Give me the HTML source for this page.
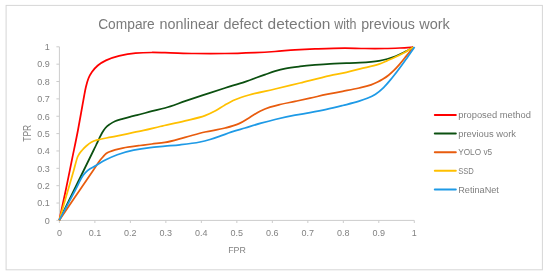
<!DOCTYPE html>
<html><head><meta charset="utf-8"><title>chart</title>
<style>html,body{margin:0;padding:0;background:#fff}svg{display:block}</style></head>
<body>
<svg width="550" height="276" viewBox="0 0 550 276">
<rect x="0" y="0" width="550" height="276" fill="#fff"/>
<rect x="6.1" y="5.4" width="536.3" height="264.4" fill="#fff" stroke="#d6d6d6" stroke-width="1"/>
<g stroke="#cccccc" stroke-width="1" fill="none">
<path d="M59.4,46.8V220.4H414.3"/>
<path d="M56.40,220.40H59.4"/>
<path d="M59.40,220.4V223.00"/>
<path d="M56.40,203.04H59.4"/>
<path d="M94.89,220.4V223.00"/>
<path d="M56.40,185.68H59.4"/>
<path d="M130.38,220.4V223.00"/>
<path d="M56.40,168.32H59.4"/>
<path d="M165.87,220.4V223.00"/>
<path d="M56.40,150.96H59.4"/>
<path d="M201.36,220.4V223.00"/>
<path d="M56.40,133.60H59.4"/>
<path d="M236.85,220.4V223.00"/>
<path d="M56.40,116.24H59.4"/>
<path d="M272.34,220.4V223.00"/>
<path d="M56.40,98.88H59.4"/>
<path d="M307.83,220.4V223.00"/>
<path d="M56.40,81.52H59.4"/>
<path d="M343.32,220.4V223.00"/>
<path d="M56.40,64.16H59.4"/>
<path d="M378.81,220.4V223.00"/>
<path d="M56.40,46.80H59.4"/>
<path d="M414.30,220.4V223.00"/>
</g>
<g font-family="'Liberation Sans', sans-serif" font-size="9" fill="#828282">
<text x="49.8" y="223.70" text-anchor="end">0</text>
<text x="59.40" y="236.3" text-anchor="middle">0</text>
<text x="49.8" y="206.34" text-anchor="end">0.1</text>
<text x="94.89" y="236.3" text-anchor="middle">0.1</text>
<text x="49.8" y="188.98" text-anchor="end">0.2</text>
<text x="130.38" y="236.3" text-anchor="middle">0.2</text>
<text x="49.8" y="171.62" text-anchor="end">0.3</text>
<text x="165.87" y="236.3" text-anchor="middle">0.3</text>
<text x="49.8" y="154.26" text-anchor="end">0.4</text>
<text x="201.36" y="236.3" text-anchor="middle">0.4</text>
<text x="49.8" y="136.90" text-anchor="end">0.5</text>
<text x="236.85" y="236.3" text-anchor="middle">0.5</text>
<text x="49.8" y="119.54" text-anchor="end">0.6</text>
<text x="272.34" y="236.3" text-anchor="middle">0.6</text>
<text x="49.8" y="102.18" text-anchor="end">0.7</text>
<text x="307.83" y="236.3" text-anchor="middle">0.7</text>
<text x="49.8" y="84.82" text-anchor="end">0.8</text>
<text x="343.32" y="236.3" text-anchor="middle">0.8</text>
<text x="49.8" y="67.46" text-anchor="end">0.9</text>
<text x="378.81" y="236.3" text-anchor="middle">0.9</text>
<text x="49.8" y="50.10" text-anchor="end">1</text>
<text x="414.30" y="236.3" text-anchor="middle">1</text>
<text x="228.2" y="253.3" font-size="9.7" textLength="17.6" lengthAdjust="spacingAndGlyphs">FPR</text>
<text transform="translate(31.4,141.7) rotate(-90)" font-size="10.7" textLength="16.8" lengthAdjust="spacingAndGlyphs">TPR</text>
</g>
<text y="28.8" font-family="'Liberation Sans', sans-serif" font-size="14" fill="#7a7a7a"><tspan x="98.20" textLength="56.60" lengthAdjust="spacingAndGlyphs">Compare</tspan> <tspan x="159.60" textLength="59.20" lengthAdjust="spacingAndGlyphs">nonlinear</tspan> <tspan x="223.60" textLength="39.20" lengthAdjust="spacingAndGlyphs">defect</tspan> <tspan x="267.60" textLength="62.80" lengthAdjust="spacingAndGlyphs">detection</tspan> <tspan x="334.20" textLength="22.20" lengthAdjust="spacingAndGlyphs">with</tspan> <tspan x="361.20" textLength="53.80" lengthAdjust="spacingAndGlyphs">previous</tspan> <tspan x="419.20" textLength="30.60" lengthAdjust="spacingAndGlyphs">work</tspan></text>
<g fill="none" stroke-width="1.75" stroke-linecap="butt" stroke-linejoin="round">
<path d="M59.30,220.20C61.47,210.29 63.63,200.36 65.80,190.00C67.83,180.27 69.87,170.00 71.90,160.00C73.93,150.00 75.97,140.69 78.00,130.00C79.50,122.11 81.00,113.33 82.50,105.00C83.10,101.67 83.70,98.16 84.30,95.00C84.83,92.19 85.37,89.25 85.90,87.00C86.77,83.34 87.63,80.50 88.50,78.30C89.70,75.25 90.90,73.56 92.10,71.80C94.00,69.02 95.90,67.13 97.80,65.50C100.53,63.15 103.27,61.72 106.00,60.40C110.37,58.29 114.73,56.99 119.10,55.90C124.57,54.54 130.03,53.55 135.50,53.10C140.93,52.65 146.37,52.52 151.80,52.50C156.20,52.48 160.60,52.62 165.00,52.70C175.00,52.89 185.00,53.43 195.00,53.50C205.00,53.57 215.00,53.58 225.00,53.50C235.00,53.42 245.00,53.02 255.00,52.60C261.67,52.32 268.33,51.94 275.00,51.50C281.67,51.06 288.33,50.32 295.00,49.90C301.67,49.48 308.33,49.15 315.00,48.90C325.00,48.52 335.00,48.09 345.00,48.10C351.67,48.10 358.33,48.47 365.00,48.50C371.67,48.53 378.33,48.56 385.00,48.50C390.00,48.45 395.00,48.23 400.00,48.00C404.40,47.80 408.80,47.49 413.20,47.20" stroke="#ff0000"/>
<path d="M59.30,220.20C64.23,210.13 69.17,200.07 74.10,190.00C77.37,183.33 80.64,176.67 83.91,170.00C87.18,163.33 90.44,156.67 93.71,150.00C94.53,148.33 95.35,146.71 96.16,145.00C96.71,143.86 97.25,142.65 97.80,141.50C98.27,140.52 98.73,139.55 99.20,138.60C100.13,136.69 101.07,134.63 102.00,133.00C103.07,131.14 104.13,129.45 105.20,128.20C106.67,126.48 108.13,125.46 109.60,124.40C111.40,123.10 113.20,122.01 115.00,121.20C117.53,120.06 120.07,119.54 122.60,118.80C125.07,118.08 127.53,117.41 130.00,116.80C132.33,116.22 134.67,115.77 137.00,115.20C141.93,114.00 146.87,112.46 151.80,111.20C156.20,110.08 160.60,109.23 165.00,108.00C171.67,106.13 178.33,103.44 185.00,101.20C191.00,99.18 197.00,97.18 203.00,95.20C210.33,92.78 217.67,90.33 225.00,88.00C231.67,85.88 238.33,84.03 245.00,81.80C251.67,79.57 258.33,76.92 265.00,74.60C268.33,73.44 271.67,72.19 275.00,71.20C278.33,70.21 281.67,69.28 285.00,68.60C290.00,67.59 295.00,67.01 300.00,66.40C305.00,65.79 310.00,65.33 315.00,64.90C320.00,64.47 325.00,64.06 330.00,63.80C335.47,63.51 340.93,63.42 346.40,63.20C350.93,63.02 355.47,62.88 360.00,62.60C366.33,62.21 372.67,61.81 379.00,60.80C381.77,60.36 384.53,59.75 387.30,59.00C390.03,58.26 392.77,57.28 395.50,56.20C398.20,55.13 400.90,53.85 403.60,52.50C406.80,50.90 410.00,49.05 413.20,47.20" stroke="#0b5010"/>
<path d="M59.30,220.20C66.15,210.13 73.00,200.07 79.84,190.00C84.38,183.33 88.91,176.67 93.45,170.00C95.72,166.67 97.98,162.87 100.25,160.00C101.17,158.84 102.08,157.83 103.00,156.80C103.73,155.98 104.47,155.05 105.20,154.40C105.93,153.75 106.67,153.24 107.40,152.80C108.13,152.36 108.87,152.02 109.60,151.70C111.40,150.91 113.20,150.32 115.00,149.80C117.53,149.07 120.07,148.58 122.60,148.10C125.07,147.63 127.53,147.27 130.00,146.90C133.33,146.39 136.67,145.95 140.00,145.50C143.93,144.97 147.87,144.49 151.80,144.00C156.20,143.45 160.60,143.14 165.00,142.40C171.67,141.28 178.33,139.03 185.00,137.30C191.67,135.57 198.33,133.53 205.00,132.00C211.67,130.47 218.33,129.72 225.00,128.00C229.67,126.80 234.33,125.65 239.00,123.60C242.67,121.99 246.33,119.35 250.00,117.20C253.33,115.25 256.67,112.94 260.00,111.30C263.33,109.66 266.67,108.31 270.00,107.20C273.33,106.09 276.67,105.30 280.00,104.50C285.00,103.30 290.00,102.45 295.00,101.40C300.00,100.35 305.00,99.31 310.00,98.20C315.47,96.99 320.93,95.55 326.40,94.40C331.83,93.26 337.27,92.36 342.70,91.30C348.17,90.23 353.63,89.29 359.10,88.00C363.07,87.06 367.03,86.20 371.00,84.80C373.20,84.02 375.40,83.08 377.60,82.00C379.40,81.12 381.20,80.11 383.00,79.00C384.83,77.86 386.67,76.64 388.50,75.20C390.30,73.79 392.10,72.16 393.90,70.40C395.70,68.64 397.50,66.65 399.30,64.60C401.53,62.05 403.77,59.19 406.00,56.40C408.40,53.40 410.80,50.30 413.20,47.20" stroke="#e85c0e"/>
<path d="M59.30,220.20C62.22,210.13 65.14,200.07 68.05,190.00C69.99,183.33 71.92,176.67 73.85,170.00C75.16,165.50 76.46,159.48 77.76,156.50C79.21,153.20 80.65,151.94 82.10,150.20C83.50,148.52 84.90,147.23 86.30,146.00C87.97,144.54 89.63,143.11 91.30,142.20C93.47,141.01 95.63,140.43 97.80,139.80C102.17,138.53 106.53,138.08 110.90,137.20C116.37,136.09 121.83,134.94 127.30,133.80C132.73,132.67 138.17,131.61 143.60,130.40C149.07,129.18 154.53,127.78 160.00,126.50C168.33,124.55 176.67,122.84 185.00,120.80C191.67,119.17 198.33,118.05 205.00,115.60C208.33,114.37 211.67,112.77 215.00,111.00C218.33,109.23 221.67,106.78 225.00,104.90C228.33,103.02 231.67,101.13 235.00,99.70C239.67,97.70 244.33,96.35 249.00,95.00C257.67,92.50 266.33,91.04 275.00,89.00C283.33,87.04 291.67,85.01 300.00,83.00C310.00,80.58 320.00,77.91 330.00,75.70C335.47,74.49 340.93,73.57 346.40,72.30C350.93,71.25 355.47,69.95 360.00,68.80C366.33,67.20 372.67,66.29 379.00,64.10C381.77,63.14 384.53,61.79 387.30,60.60C390.03,59.42 392.77,58.29 395.50,57.00C398.20,55.73 400.90,54.37 403.60,52.90C406.80,51.15 410.00,49.18 413.20,47.20" stroke="#ffc000"/>
<path d="M59.30,220.20C64.65,210.13 70.01,200.07 75.36,190.00C77.97,185.10 80.58,178.81 83.18,175.30C84.72,173.23 86.26,171.69 87.80,170.40C90.53,168.10 93.27,167.11 96.00,165.50C99.27,163.57 102.53,161.47 105.80,159.80C109.63,157.84 113.47,156.08 117.30,154.70C122.73,152.75 128.17,151.34 133.60,150.20C139.07,149.05 144.53,148.26 150.00,147.60C155.00,147.00 160.00,146.67 165.00,146.20C170.00,145.73 175.00,145.36 180.00,144.80C186.67,144.05 193.33,143.33 200.00,142.00C203.33,141.34 206.67,140.46 210.00,139.50C213.33,138.54 216.67,137.35 220.00,136.20C223.67,134.93 227.33,133.42 231.00,132.20C235.67,130.65 240.33,129.40 245.00,128.00C250.33,126.40 255.67,124.70 261.00,123.20C265.67,121.89 270.33,120.63 275.00,119.50C281.67,117.89 288.33,116.47 295.00,115.20C300.00,114.24 305.00,113.52 310.00,112.60C315.47,111.60 320.93,110.58 326.40,109.40C331.83,108.23 337.27,106.86 342.70,105.50C348.17,104.13 353.63,102.92 359.10,101.20C361.83,100.34 364.57,99.45 367.30,98.30C370.03,97.15 372.77,95.95 375.50,94.20C378.20,92.47 380.90,90.21 383.60,87.60C386.33,84.96 389.07,81.52 391.80,78.20C394.93,74.39 398.07,70.26 401.20,66.00C403.47,62.92 405.73,59.60 408.00,56.40C410.20,53.30 412.40,50.20 414.60,47.10" stroke="#1e9ae6"/>
</g>
<g font-family="'Liberation Sans', sans-serif" font-size="9.25" fill="#7e7e7e">
<path d="M434.8,114.90H455.8" stroke="#ff0000" stroke-width="2" stroke-linecap="round"/>
<text x="458.2" y="118.20" textLength="72.7" lengthAdjust="spacingAndGlyphs">proposed method</text>
<path d="M434.8,133.52H455.8" stroke="#0b5010" stroke-width="2" stroke-linecap="round"/>
<text x="458.2" y="136.82" textLength="57.8" lengthAdjust="spacingAndGlyphs">previous work</text>
<path d="M434.8,152.14H455.8" stroke="#e85c0e" stroke-width="2" stroke-linecap="round"/>
<text x="458.2" y="155.44" textLength="33.9" lengthAdjust="spacingAndGlyphs">YOLO v5</text>
<path d="M434.8,170.76H455.8" stroke="#ffc000" stroke-width="2" stroke-linecap="round"/>
<text x="458.2" y="174.06" textLength="15.7" lengthAdjust="spacingAndGlyphs">SSD</text>
<path d="M434.8,189.38H455.8" stroke="#1e9ae6" stroke-width="2" stroke-linecap="round"/>
<text x="458.2" y="192.68" textLength="40.7" lengthAdjust="spacingAndGlyphs">RetinaNet</text>
</g>
</svg>
</body></html>
